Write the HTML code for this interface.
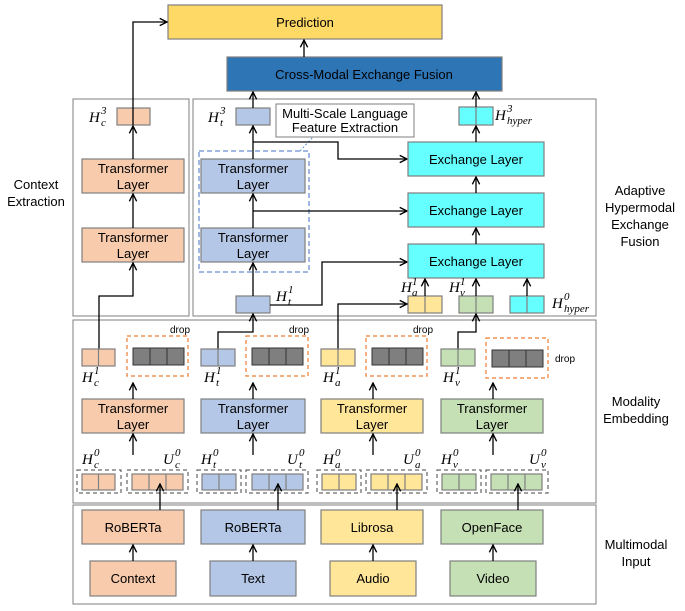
<!DOCTYPE html>
<html><head><meta charset="utf-8"><style>
body{margin:0;background:#fff}
svg{display:block}
text{font-family:"Liberation Sans",sans-serif;font-size:13px;fill:#000}
.m{font-family:"Liberation Serif",serif;font-style:italic;font-size:15px}
.p{font-family:"Liberation Serif",serif;font-style:italic;font-size:11px}
.s{font-size:10px}
.b{stroke:#7f7f7f;stroke-width:1.2}
.l{stroke:#000;stroke-width:1.3;fill:none;marker-end:url(#a)}
.d{fill:none;stroke:#444;stroke-width:1;stroke-dasharray:4 3}
.o{fill:none;stroke:#ed7d31;stroke-width:1.2;stroke-dasharray:4 3}
</style></head><body>
<svg width="685" height="611" viewBox="0 0 685 611" xmlns="http://www.w3.org/2000/svg">
<defs><marker id="a" viewBox="0 0 10 10" refX="9" refY="5" markerWidth="7" markerHeight="7" orient="auto"><path d="M1,1 L9,5 L1,9" fill="none" stroke="#000" stroke-width="1.5"/></marker></defs>

<rect x="73" y="99" width="116" height="217" fill="none" stroke="#7f7f7f"/>
<rect x="193" y="99" width="403" height="217" fill="none" stroke="#7f7f7f"/>
<rect x="73" y="320" width="523" height="183" fill="none" stroke="#7f7f7f"/>
<rect x="73" y="505" width="523" height="99" fill="none" stroke="#7f7f7f"/>

<rect x="168" y="5" width="274" height="34" fill="#ffd966" class="b"/>
<text x="305" y="27" text-anchor="middle">Prediction</text>
<rect x="227" y="57" width="275" height="34" fill="#2e75b6" class="b"/>
<text x="364" y="79" text-anchor="middle">Cross-Modal Exchange Fusion</text>
<line x1="304" y1="57" x2="304" y2="40" class="l"/>

<text x="36" y="189" text-anchor="middle">Context</text>
<text x="36" y="206" text-anchor="middle">Extraction</text>
<text x="640" y="195" text-anchor="middle">Adaptive</text>
<text x="640" y="212" text-anchor="middle">Hypermodal</text>
<text x="640" y="229" text-anchor="middle">Exchange</text>
<text x="640" y="246" text-anchor="middle">Fusion</text>
<text x="636" y="406" text-anchor="middle">Modality</text>
<text x="636" y="423" text-anchor="middle">Embedding</text>
<text x="636" y="549" text-anchor="middle">Multimodal</text>
<text x="636" y="566" text-anchor="middle">Input</text>

<!-- context extraction -->
<rect x="117" y="108" width="33" height="17" fill="#f8cbad" class="b"/>
<text x="89" y="122" class="m">H</text><text x="101" y="114" class="p">3</text><text x="101" y="126" class="p">c</text>
<rect x="82" y="159" width="102" height="34" fill="#f8cbad" class="b"/>
<text x="133" y="173" text-anchor="middle">Transformer</text><text x="133" y="189" text-anchor="middle">Layer</text>
<rect x="82" y="228" width="102" height="34" fill="#f8cbad" class="b"/>
<text x="133" y="242" text-anchor="middle">Transformer</text><text x="133" y="258" text-anchor="middle">Layer</text>
<polyline points="99,349 99,296 133,296 133,263" class="l"/>
<line x1="133" y1="228" x2="133" y2="194" class="l"/>
<line x1="133" y1="159" x2="133" y2="126" class="l"/>
<polyline points="133,125 133,22 167,22" class="l"/>

<!-- text side -->
<rect x="236" y="108" width="34" height="17" fill="#b4c7e7" class="b"/>
<text x="208" y="122" class="m">H</text><text x="220" y="114" class="p">3</text><text x="220" y="126" class="p">t</text>
<rect x="276" y="104" width="138" height="33" fill="#fff" stroke="#7f7f7f"/>
<text x="345" y="118" text-anchor="middle">Multi-Scale Language</text>
<text x="345" y="132" text-anchor="middle">Feature Extraction</text>
<rect x="199" y="151" width="110" height="121" fill="none" stroke="#4472c4" stroke-width="1" stroke-dasharray="5 3"/>
<line x1="300" y1="151" x2="313" y2="137" stroke="#5b9bd5" stroke-dasharray="2 2"/>
<rect x="201" y="159" width="104" height="34" fill="#b4c7e7" class="b"/>
<text x="253" y="173" text-anchor="middle">Transformer</text><text x="253" y="189" text-anchor="middle">Layer</text>
<rect x="201" y="228" width="104" height="34" fill="#b4c7e7" class="b"/>
<text x="253" y="242" text-anchor="middle">Transformer</text><text x="253" y="258" text-anchor="middle">Layer</text>
<rect x="236" y="296" width="34" height="17" fill="#b4c7e7" class="b"/>
<text x="276" y="301" class="m">H</text><text x="288" y="293" class="p">1</text><text x="288" y="305" class="p">t</text>
<polyline points="218,349 218,332 253,332 253,314" class="l"/>
<line x1="253" y1="296" x2="253" y2="263" class="l"/>
<line x1="253" y1="228" x2="253" y2="194" class="l"/>
<line x1="253" y1="159" x2="253" y2="126" class="l"/>
<line x1="253" y1="108" x2="253" y2="92" class="l"/>
<polyline points="253,142 338,142 338,159 407,159" class="l"/>
<polyline points="253,211 407,211" class="l"/>
<polyline points="270,305 322,305 322,262 407,262" class="l"/>

<!-- exchange -->
<rect x="408" y="142" width="136" height="34" fill="#6ff" class="b"/>
<text x="476" y="164" text-anchor="middle">Exchange Layer</text>
<rect x="408" y="193" width="136" height="34" fill="#6ff" class="b"/>
<text x="476" y="215" text-anchor="middle">Exchange Layer</text>
<rect x="408" y="244" width="136" height="34" fill="#6ff" class="b"/>
<text x="476" y="266" text-anchor="middle">Exchange Layer</text>
<rect x="459" y="107" width="34" height="18" fill="#6ff" class="b"/><line x1="476" y1="107" x2="476" y2="125" class="b"/>
<text x="495" y="120" class="m">H</text><text x="507" y="112" class="p">3</text><text x="507" y="124" class="p">hyper</text>
<line x1="476" y1="244" x2="476" y2="228" class="l"/>
<line x1="476" y1="193" x2="476" y2="177" class="l"/>
<line x1="476" y1="142" x2="476" y2="126" class="l"/>
<line x1="476" y1="107" x2="476" y2="92" class="l"/>
<rect x="408" y="296" width="34" height="17" fill="#ffe699" class="b"/><line x1="425" y1="296" x2="425" y2="313" class="b"/>
<rect x="459" y="296" width="34" height="17" fill="#c5e0b4" class="b"/><line x1="476" y1="296" x2="476" y2="313" class="b"/>
<rect x="510" y="296" width="34" height="17" fill="#6ff" class="b"/><line x1="527" y1="296" x2="527" y2="313" class="b"/>
<text x="401" y="292" class="m">H</text><text x="412" y="285" class="p">1</text><text x="412" y="296" class="p">a</text>
<text x="449" y="292" class="m">H</text><text x="460" y="285" class="p">1</text><text x="460" y="296" class="p">v</text>
<text x="552" y="308" class="m">H</text><text x="564" y="300" class="p">0</text><text x="564" y="312" class="p">hyper</text>
<line x1="425" y1="296" x2="425" y2="279" class="l"/>
<line x1="476" y1="296" x2="476" y2="279" class="l"/>
<line x1="527" y1="296" x2="527" y2="279" class="l"/>
<polyline points="338,349 338,304 407,304" class="l"/>
<polyline points="458,349 458,332 476,332 476,314" class="l"/>

<!-- ctx -->
<rect x="82" y="349" width="33" height="17" fill="#f8cbad" class="b"/><line x1="98.5" y1="349" x2="98.5" y2="366" class="b"/>
<rect x="127" y="336" width="61" height="40" class="o"/>
<rect x="133" y="348" width="51" height="17" fill="#7f7f7f" stroke="#333"/><line x1="150" y1="348" x2="150" y2="365" stroke="#333"/><line x1="167" y1="348" x2="167" y2="365" stroke="#333"/>
<text x="170" y="333" class="s">drop</text>
<text x="82" y="382" class="m">H</text><text x="94" y="374" class="p">1</text><text x="94" y="386" class="p">c</text>
<rect x="82" y="399" width="102" height="34" fill="#f8cbad" class="b"/>
<text x="133" y="413" text-anchor="middle">Transformer</text><text x="133" y="429" text-anchor="middle">Layer</text>
<line x1="133" y1="399" x2="133" y2="383" class="l"/>
<line x1="133" y1="455" x2="133" y2="434" class="l"/>
<rect x="77" y="470" width="44" height="23" class="d"/>
<rect x="82" y="474" width="33" height="16" fill="#f8cbad" class="b"/><line x1="98.5" y1="474" x2="98.5" y2="490" class="b"/>
<rect x="127" y="470" width="61" height="23" class="d"/>
<rect x="132" y="474" width="51" height="16" fill="#f8cbad" class="b"/><line x1="149" y1="474" x2="149" y2="490" class="b"/><line x1="166" y1="474" x2="166" y2="490" class="b"/>
<text x="82" y="464" class="m">H</text><text x="94" y="456" class="p">0</text><text x="94" y="468" class="p">c</text>
<text x="163" y="464" class="m">U</text><text x="175" y="456" class="p">0</text><text x="175" y="468" class="p">c</text>
<!-- text -->
<rect x="201" y="349" width="34" height="17" fill="#b4c7e7" class="b"/><line x1="218" y1="349" x2="218" y2="366" class="b"/>
<rect x="246" y="336" width="62" height="40" class="o"/>
<rect x="252" y="348" width="51" height="17" fill="#7f7f7f" stroke="#333"/><line x1="269" y1="348" x2="269" y2="365" stroke="#333"/><line x1="286" y1="348" x2="286" y2="365" stroke="#333"/>
<text x="289" y="333" class="s">drop</text>
<text x="204" y="382" class="m">H</text><text x="216" y="374" class="p">1</text><text x="216" y="386" class="p">t</text>
<rect x="201" y="399" width="104" height="34" fill="#b4c7e7" class="b"/>
<text x="253" y="413" text-anchor="middle">Transformer</text><text x="253" y="429" text-anchor="middle">Layer</text>
<line x1="253" y1="399" x2="253" y2="383" class="l"/>
<line x1="253" y1="455" x2="253" y2="434" class="l"/>
<rect x="197" y="470" width="44" height="23" class="d"/>
<rect x="202" y="474" width="34" height="16" fill="#b4c7e7" class="b"/><line x1="219" y1="474" x2="219" y2="490" class="b"/>
<rect x="246" y="470" width="62" height="23" class="d"/>
<rect x="252" y="474" width="51" height="16" fill="#b4c7e7" class="b"/><line x1="269" y1="474" x2="269" y2="490" class="b"/><line x1="286" y1="474" x2="286" y2="490" class="b"/>
<text x="201" y="464" class="m">H</text><text x="213" y="456" class="p">0</text><text x="213" y="468" class="p">t</text>
<text x="287" y="464" class="m">U</text><text x="299" y="456" class="p">0</text><text x="299" y="468" class="p">t</text>
<!-- audio -->
<rect x="321" y="349" width="34" height="17" fill="#ffe699" class="b"/><line x1="338" y1="349" x2="338" y2="366" class="b"/>
<rect x="366" y="336" width="61" height="40" class="o"/>
<rect x="372" y="348" width="51" height="17" fill="#7f7f7f" stroke="#333"/><line x1="389" y1="348" x2="389" y2="365" stroke="#333"/><line x1="406" y1="348" x2="406" y2="365" stroke="#333"/>
<text x="413" y="333" class="s">drop</text>
<text x="323" y="382" class="m">H</text><text x="335" y="374" class="p">1</text><text x="335" y="386" class="p">a</text>
<rect x="321" y="399" width="102" height="34" fill="#ffe699" class="b"/>
<text x="372" y="413" text-anchor="middle">Transformer</text><text x="372" y="429" text-anchor="middle">Layer</text>
<line x1="373" y1="399" x2="373" y2="383" class="l"/>
<line x1="373" y1="455" x2="373" y2="434" class="l"/>
<rect x="317" y="470" width="44" height="23" class="d"/>
<rect x="322" y="474" width="34" height="16" fill="#ffe699" class="b"/><line x1="339" y1="474" x2="339" y2="490" class="b"/>
<rect x="366" y="470" width="61" height="23" class="d"/>
<rect x="371" y="474" width="51" height="16" fill="#ffe699" class="b"/><line x1="388" y1="474" x2="388" y2="490" class="b"/><line x1="405" y1="474" x2="405" y2="490" class="b"/>
<text x="323" y="464" class="m">H</text><text x="335" y="456" class="p">0</text><text x="335" y="468" class="p">a</text>
<text x="403" y="464" class="m">U</text><text x="415" y="456" class="p">0</text><text x="415" y="468" class="p">a</text>
<!-- video -->
<rect x="441" y="349" width="34" height="17" fill="#c5e0b4" class="b"/><line x1="458" y1="349" x2="458" y2="366" class="b"/>
<rect x="486" y="338" width="62" height="40" class="o"/>
<rect x="492" y="350" width="51" height="17" fill="#7f7f7f" stroke="#333"/><line x1="509" y1="350" x2="509" y2="367" stroke="#333"/><line x1="526" y1="350" x2="526" y2="367" stroke="#333"/>
<text x="555" y="362" class="s">drop</text>
<text x="443" y="382" class="m">H</text><text x="455" y="374" class="p">1</text><text x="455" y="386" class="p">v</text>
<rect x="441" y="399" width="102" height="34" fill="#c5e0b4" class="b"/>
<text x="492" y="413" text-anchor="middle">Transformer</text><text x="492" y="429" text-anchor="middle">Layer</text>
<line x1="493" y1="399" x2="493" y2="383" class="l"/>
<line x1="493" y1="455" x2="493" y2="434" class="l"/>
<rect x="437" y="470" width="44" height="23" class="d"/>
<rect x="442" y="474" width="34" height="16" fill="#c5e0b4" class="b"/><line x1="459" y1="474" x2="459" y2="490" class="b"/>
<rect x="486" y="470" width="62" height="23" class="d"/>
<rect x="491" y="474" width="51" height="16" fill="#c5e0b4" class="b"/><line x1="508" y1="474" x2="508" y2="490" class="b"/><line x1="525" y1="474" x2="525" y2="490" class="b"/>
<text x="441" y="464" class="m">H</text><text x="453" y="456" class="p">0</text><text x="453" y="468" class="p">v</text>
<text x="529" y="464" class="m">U</text><text x="541" y="456" class="p">0</text><text x="541" y="468" class="p">v</text>

<!-- input -->
<rect x="82" y="510" width="102" height="34" fill="#f8cbad" class="b"/><text x="133" y="532" text-anchor="middle">RoBERTa</text>
<rect x="201" y="510" width="104" height="34" fill="#b4c7e7" class="b"/><text x="253" y="532" text-anchor="middle">RoBERTa</text>
<rect x="321" y="510" width="102" height="34" fill="#ffe699" class="b"/><text x="372" y="532" text-anchor="middle">Librosa</text>
<rect x="441" y="510" width="102" height="34" fill="#c5e0b4" class="b"/><text x="492" y="532" text-anchor="middle">OpenFace</text>
<rect x="90" y="561" width="86" height="35" fill="#f8cbad" class="b"/><text x="133" y="583" text-anchor="middle">Context</text>
<rect x="210" y="561" width="86" height="35" fill="#b4c7e7" class="b"/><text x="253" y="583" text-anchor="middle">Text</text>
<rect x="330" y="561" width="86" height="35" fill="#ffe699" class="b"/><text x="373" y="583" text-anchor="middle">Audio</text>
<rect x="450" y="561" width="86" height="35" fill="#c5e0b4" class="b"/><text x="493" y="583" text-anchor="middle">Video</text>
<line x1="133" y1="561" x2="133" y2="545" class="l"/>
<line x1="253" y1="561" x2="253" y2="545" class="l"/>
<line x1="373" y1="561" x2="373" y2="545" class="l"/>
<line x1="493" y1="561" x2="493" y2="545" class="l"/>
<line x1="160" y1="510" x2="160" y2="484" class="l"/>
<line x1="278" y1="510" x2="278" y2="484" class="l"/>
<line x1="397" y1="510" x2="397" y2="484" class="l"/>
<line x1="518" y1="510" x2="518" y2="484" class="l"/>
</svg>
</body></html>
